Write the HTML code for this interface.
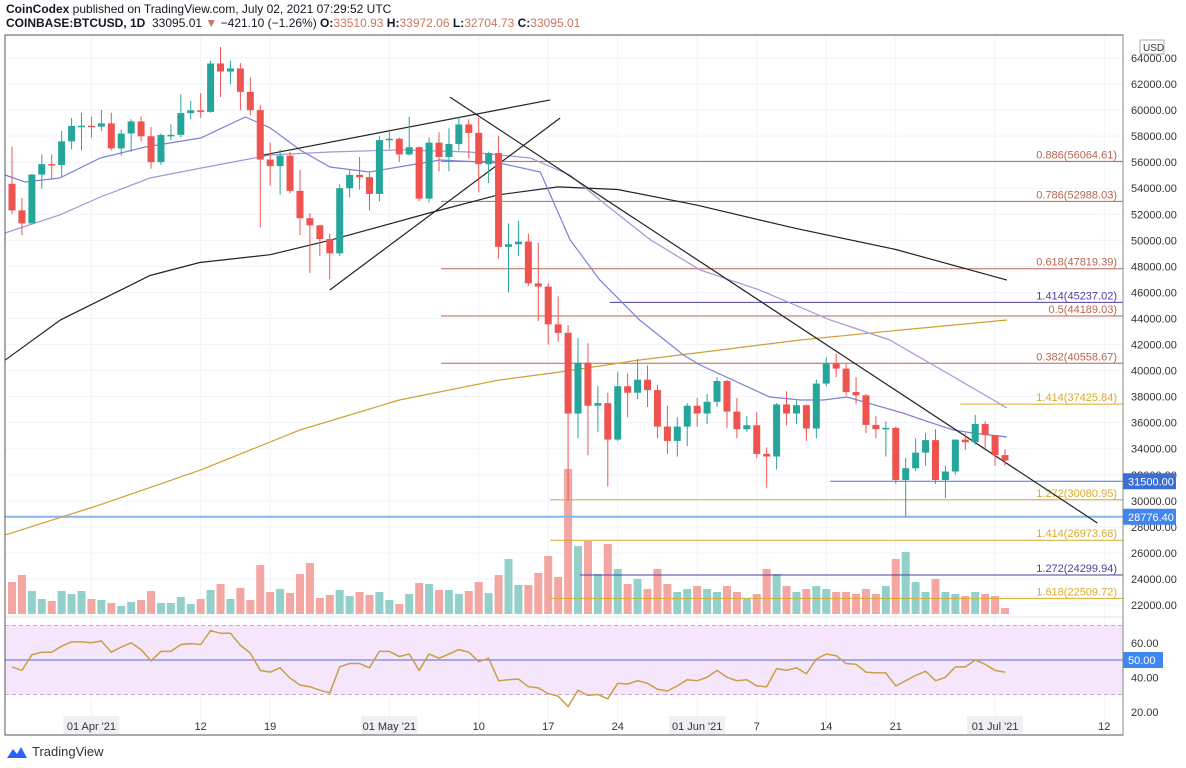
<!DOCTYPE html>
<html><head><meta charset="utf-8">
<style>
body{margin:0;background:#fff;width:1186px;height:768px;overflow:hidden;font-family:"Liberation Sans",sans-serif;}
#hdr1{position:absolute;left:6px;top:2px;font-size:12px;color:#131722;}
#hdr2{position:absolute;left:6px;top:16px;font-size:12px;color:#131722;}
.o{color:#c8775e}
#foot{position:absolute;left:6px;top:744px;font-size:13px;color:#333;display:flex;align-items:center;gap:4px}
svg{position:absolute;left:0;top:0}
</style></head><body>
<div id="hdr1"><b>CoinCodex</b> published on TradingView.com, July 02, 2021 07:29:52 UTC</div>
<div id="hdr2"><b>COINBASE:BTCUSD, 1D</b>&nbsp; 33095.01 <span class="o">▼</span> −421.10 (−1.26%) <b>O:</b><span class="o">33510.93</span> <b>H:</b><span class="o">33972.06</span> <b>L:</b><span class="o">32704.73</span> <b>C:</b><span class="o">33095.01</span></div>
<div id="foot"><svg width="22" height="14" style="position:static" viewBox="0 0 22 14"><path d="M1 13 L7 4 L11 9 L15 2 L21 13 Z" fill="#2962ff"/></svg>TradingView</div>
<svg id="chart" width="1186" height="768"></svg>
<script>
const opens=[54340,52300,51300,55050,55850,55780,57600,58780,58800,58730,58980,57060,58200,59130,57990,56000,58090,58100,59770,59980,59860,63580,62960,63200,61400,60000,56200,55700,56500,53800,51700,51150,50100,49000,54000,55030,54850,53560,57700,57800,56600,57150,53200,57500,56400,57400,58900,58250,55850,56700,49500,49700,49900,46700,46450,43550,42900,36700,40600,37300,37500,34700,38800,38300,39300,38500,35700,34600,35700,37300,36700,37600,39200,36850,35500,35800,33600,33400,37400,36700,37340,35550,39000,40530,40150,38350,38100,35830,35500,35600,31600,32500,33700,34660,31600,32250,34700,34500,35900,35050,33510];
const highs=[57200,53250,55100,56600,56600,58400,59400,59800,59500,60000,59800,58500,59300,59500,58700,58200,58900,61200,60700,61300,63800,64850,63800,63600,62500,60400,57500,57000,56800,55400,52100,51200,50500,54300,55400,56400,55200,58000,58500,57900,59500,57200,57900,58300,58600,59500,59300,59400,56800,58000,51300,51500,50500,49800,46700,45700,43500,42500,42100,38800,38300,39900,39800,40900,40400,38900,37300,36400,37500,37900,38200,39500,39300,37900,36500,36800,34100,37500,38400,37700,37400,39300,41000,41300,40500,39500,38200,36500,36100,35700,33300,34800,35200,35500,32700,34700,35200,36600,36100,35050,33972];
const lows=[52000,50400,51300,53950,54700,54900,57000,56900,57900,58400,56900,56500,56800,57600,55500,55800,57700,57900,59300,59400,59800,61000,62000,60000,59600,51000,54200,53500,53600,50400,47500,48800,47000,48800,53300,53900,52300,53000,57000,56000,56500,53000,52900,55300,55300,56900,56300,53700,54400,48600,46000,48800,46500,43800,42000,42200,30000,34800,33500,35300,31100,34600,36400,37800,37200,34800,33600,33400,34200,35700,35900,37200,35600,34800,35300,33300,31000,32400,35800,35900,34600,34800,38800,39500,38100,37400,35200,34800,33400,31300,28800,32300,32700,31300,30200,32000,33900,34300,34000,32700,32704];
const closes=[52300,51300,55050,55850,55780,57600,58780,58800,58730,58980,57060,58200,59130,57990,56000,58090,58100,59770,59980,59860,63580,62960,63200,61400,60000,56200,55700,56500,53800,51700,51150,50100,49000,54000,55030,54850,53560,57700,57800,56600,57150,53200,57500,56400,57400,58900,58250,55850,56700,49500,49700,49900,46700,46450,43550,42900,36700,40600,37300,37500,34700,38800,38300,39300,38500,35700,34600,35700,37300,36700,37600,39200,36850,35500,35800,33600,33400,37400,36700,37340,35550,39000,40530,40150,38350,38100,35830,35500,35600,31600,32500,33700,34660,31600,32250,34700,34500,35900,35050,33520,33095];
const volumes=[32,39,23,15,13,23,20,23,15,14,11,8,12,14,23,11,11,17,10,15,24,30,15,26,14,49,22,25,21,40,51,16,19,24,18,22,19,22,14,10,20,31,30,24,24,20,23,32,21,39,55,29,29,41,58,37,145,68,73,40,70,45,30,35,25,45,30,22,25,28,25,22,28,22,15,20,45,40,28,22,25,28,25,22,22,20,25,20,28,55,62,32,22,35,22,20,18,22,20,18,6];
const rsi=[46,44,53,54.5,54.5,58,60.5,60.5,60,61,54.5,57.5,60,56,49.5,55,55,59,59.5,59,67,65.5,65.5,58.5,54,44,43,45.5,39.5,35.5,34.5,32.5,31,46,48,48,45.5,55,55,52,53.5,44,53.5,51,53.5,56,54.5,49,51,38,38.5,39,34.5,33.8,30.5,29,23,32.5,29.5,30,27.5,36.5,36,38,36.5,33,32,35,38.5,38,40,44,40,38,38.5,35,34.5,45,44,45.5,42,50.5,53.5,52.5,48,47.5,43,42.5,42.5,35,38,41,43.5,38,40,46,46,50,47.5,44,43];
// moving averages: [day index, price]
const ma20Idx=[-0.7,1.3,4.8,8.9,13.4,19,23.5,26,29,32,36,43.1,49.1,53.2,56.2,59.2,63.2,67.6,69.3,76.3,79.4,81.7,84.1,89.7,92.7,94.8,96.8,100.2];
const ma20Val=[55020,54480,54790,56320,57170,57860,59470,58630,56940,55630,55250,56170,55940,55250,50030,46950,43880,41200,40430,37970,37740,37740,37970,36740,35960,35440,35200,34900];
const ma50Idx=[-0.7,4.8,8.9,13.9,19,26,32,39.1,46.1,52.2,56.2,59.2,64.3,69.3,75.3,82.4,88.4,94.5,100.2];
const ma50Val=[50560,51950,53330,54790,55550,56550,56780,56940,56780,56320,55010,53100,50030,47720,46180,43880,42350,39660,37130];
const ma100Idx=[-0.7,4.9,13.9,18.9,26,32,42,49,55,61,69,79,89,100.2];
const ma100Val=[40800,43900,47300,48300,48900,50000,52100,53500,54100,53900,52700,50900,49300,46950];
const ma200Idx=[-0.7,8.9,19,29,39,49,55.2,63.2,71.3,79.4,89.4,100.2];
const ma200Val=[27370,29700,32370,35440,37740,39270,39890,40810,41580,42350,43110,43880];
const trendIdx=[[25.3,54.2],[32,55.2],[44.1,109.3]];
const trendVal=[[56550,60780],[46190,59390],[61000,28300]];
const levelVals=[56064.61,52988.03,47819.39,45237.02,44189.03,40558.67,37425.84,31500,30080.95,28776.40,26973.68,24299.94,22509.72];
const levelText=['0.886(56064.61)','0.786(52988.03)','0.618(47819.39)','1.414(45237.02)','0.5(44189.03)','0.382(40558.67)','1.414(37425.84)','','1.272(30080.95)','','1.414(26973.68)','1.272(24299.94)','1.618(22509.72)'];
const levelStart=[43.2,43.2,43.2,60.2,43.2,43.2,95.5,82.4,54.2,-1,54.2,57.2,54.2];
const priceTicks=[64000,62000,60000,58000,56000,54000,52000,50000,48000,46000,44000,42000,40000,38000,36000,34000,32000,30000,28000,26000,24000,22000];
const rsiTicks=[60,40,20];
const timeIdx=[8,19,26,38,47,54,61,69,75,82,89,99,110];
const timeLbl=["01 Apr '21","12","19","01 May '21","10","17","24","01 Jun '21","7","14","21","01 Jul '21","12"];

const X=i=>12+i*9.93, Y=p=>58+(64000-p)*0.013024, YR=v=>660-(v-50)*1.725, VH=v=>v*1.0, VB=614;
const svg=document.getElementById('chart'),NS='http://www.w3.org/2000/svg';
function mk(t,a,parent){const e=document.createElementNS(NS,t);for(const k in a)e.setAttribute(k,a[k]);(parent||svg).appendChild(e);return e;}
// grid
priceTicks.forEach(p=>{const l=mk('line',{x1:5,x2:1123,y1:Y(p),y2:Y(p),stroke:'#f0f3fa'});

});
timeIdx.forEach(i=>{const l=mk('line',{x1:X(i),x2:X(i),y1:35,y2:735,stroke:'#f0f3fa'});

});
// RSI pane
const band=mk('rect',{x:5,y:YR(70),width:1118,height:YR(30)-YR(70),fill:'#f5e6fc'});


[70,30].forEach(v=>{const l=mk('line',{x1:5,x2:1123,y1:YR(v),y2:YR(v),stroke:'#c9a7c9','stroke-dasharray':'4 3'});

});
const mid=mk('line',{x1:5,x2:1123,y1:YR(50),y2:YR(50),stroke:'#7a7fe0','stroke-width':1.2});


const sep=mk('line',{x1:5,x2:1123,y1:617,y2:617,stroke:'#e0e3eb'});


// volume
volumes.forEach((v,i)=>{const up=closes[i]>=opens[i];const r=mk('rect',{x:X(i)-4,y:VB-VH(v),width:8,height:VH(v),fill:up?'#93d0ca':'#f4a6a2'});

});
// levels
const lvlColor=['#b8664e','#b8664e','#b8664e','#4b3fa0','#b8664e','#b8664e','#d9ac2c','#4a76c9','#d9ac2c','#86b4ec','#d9ac2c','#4b3fa0','#d9ac2c'];
levelVals.forEach((p,k)=>{const x1=levelStart[k]<0?5:X(levelStart[k]);
const l=mk('line',{x1:x1,x2:1123,y1:Y(p),y2:Y(p),stroke:lvlColor[k],'stroke-width':k==9?2:1});


if(levelText[k]){const t=mk('text',{x:1117,y:Y(p)-3,'text-anchor':'end','font-size':11,fill:lvlColor[k]});t.textContent=levelText[k];

}});
// MA lines
function poly(ix,vals,col,name){const d=ix.map((i,k)=>(k?'L':'M')+X(i).toFixed(1)+' '+Y(vals[k]).toFixed(1)).join(' ');
const p=mk('path',{d:d,fill:'none',stroke:col,'stroke-width':1.2});

}
poly(ma200Idx,ma200Val,'#d1a032','ma-200-line');
poly(ma100Idx,ma100Val,'#222','ma-100-line');
poly(ma50Idx,ma50Val,'#a596d8','ma-50-line');
poly(ma20Idx,ma20Val,'#7c82d6','ma-20-line');
trendIdx.forEach((ix,k)=>{const l=mk('line',{x1:X(ix[0]),y1:Y(trendVal[k][0]),x2:X(ix[1]),y2:Y(trendVal[k][1]),stroke:'#222','stroke-width':1.2});

});
// candles
opens.forEach((o,i)=>{const c=closes[i],up=c>=o,col=up?'#26a69a':'#ef5350';
const w=mk('line',{x1:X(i),x2:X(i),y1:Y(highs[i]),y2:Y(lows[i]),stroke:col});


const t=Y(Math.max(o,c)),b=Y(Math.min(o,c));
const r=mk('rect',{x:X(i)-3.5,y:t,width:7,height:Math.max(1.5,b-t),fill:col});

});
// RSI line
const rd=rsi.map((v,i)=>(i?'L':'M')+X(i).toFixed(1)+' '+YR(v).toFixed(1)).join(' ');
const rl=mk('path',{d:rd,fill:'none',stroke:'#c9a043','stroke-width':1.5});


// frame
const fr=mk('rect',{x:5,y:35,width:1118,height:700,fill:'none',stroke:'#555'});


const ax=mk('line',{x1:1123,x2:1123,y1:35,y2:735,stroke:'#888'});


// price axis
priceTicks.forEach(p=>{const t=mk('text',{x:1131,y:Y(p)+4,'font-size':11,fill:'#333'});t.textContent=p.toFixed(2);

});
rsiTicks.forEach(v=>{const t=mk('text',{x:1131,y:YR(v)+4,'font-size':11,fill:'#333'});t.textContent=v.toFixed(2);

});
const usd=mk('rect',{x:1140,y:40,width:24,height:14,fill:'#fff',stroke:'#aaa'});


const ut=mk('text',{x:1143,y:51,'font-size':10,fill:'#333'});ut.textContent='USD';


[[31500,'31500.00','#3a6fd8'],[28776.40,'28776.40','#3f86f0']].forEach(a=>{const b=mk('rect',{x:1123,y:Y(a[0])-8,width:53,height:16,fill:a[2]});


const t=mk('text',{x:1128,y:Y(a[0])+4,'font-size':11,fill:'#fff'});t.textContent=a[1];

});
const rb=mk('rect',{x:1123,y:YR(50)-8,width:40,height:16,fill:'#3f86f0'});


const rt=mk('text',{x:1128,y:YR(50)+4,'font-size':11,fill:'#fff'});rt.textContent='50.00';


// time axis
timeIdx.forEach((i,k)=>{const isM=timeLbl[k].length>3;
if(isM){const b=mk('rect',{x:X(i)-28,y:716,width:56,height:18,fill:'#eef0f3'});

}
const t=mk('text',{x:X(i),y:730,'text-anchor':'middle','font-size':11,fill:'#333'});t.textContent=timeLbl[k];

});
</script>
</body></html>
